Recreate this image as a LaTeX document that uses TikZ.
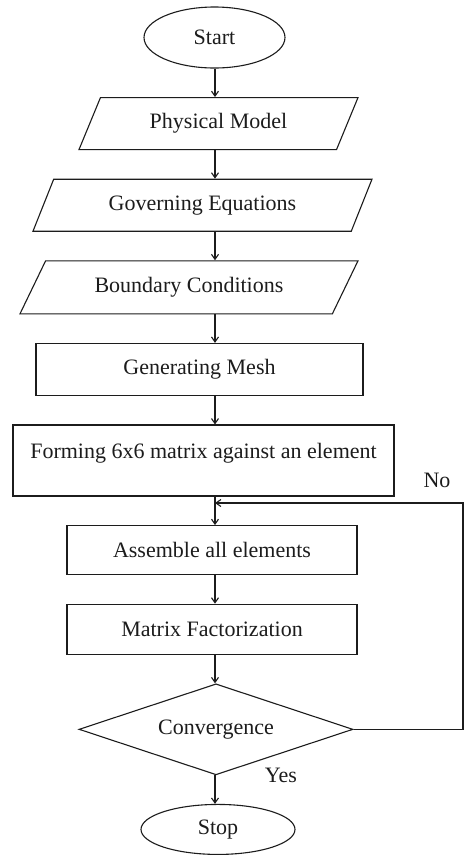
\documentclass[tikz,border=0pt]{standalone}
\usepackage{fontspec}
\setmainfont{Liberation Serif}
\usetikzlibrary{arrows.meta,positioning,shapes.geometric}
\definecolor{ink}{RGB}{28,28,28}

\begin{document}
\begin{tikzpicture}[
  font=\fontsize{22}{26}\selectfont,
  node distance=28.5pt,
  ends/.style={draw=ink, text=ink, ellipse, inner sep=0pt, line width=1.1pt},
  iobox/.style={draw=ink, text=ink, trapezium, trapezium left angle=43, trapezium right angle=137,
    trapezium stretches body, inner sep=0pt, minimum height=52pt, line width=1.1pt},
  procbox/.style={draw=ink, text=ink, rectangle, inner sep=0pt, minimum height=50pt, line width=1.1pt},
  decide/.style={draw=ink, text=ink, diamond, aspect=3, inner sep=0pt, line width=1.1pt},
  arr/.style={-{Straight Barb[length=5pt,width=7pt]}, color=ink, line width=1.1pt},
  tag/.style={text=ink, inner sep=0pt}
]
\fill[white] (0,0) rectangle (474pt,-855pt);
\useasboundingbox (0,0) rectangle (474pt,-855pt);
\coordinate (col) at (215pt,0);
\node[ends, minimum width=141pt, minimum height=61pt] (start) at (214.5pt,-37.5pt) {Start};
\node[iobox, minimum width=279pt, below=of start, xshift=4pt] (phys) {Physical Model};
\node[iobox, minimum width=339pt, below=of phys, xshift=-16pt] (gov) {Governing Equations};
\node[iobox, minimum width=338pt, minimum height=53pt, trapezium left angle=38, trapezium right angle=142,
  below=of gov, xshift=-13.5pt] (bound) {Boundary Conditions};
\node[procbox, minimum width=327pt, minimum height=52pt, below=of bound, xshift=10.5pt] (mesh) {Generating Mesh};
\node[procbox, minimum width=381pt, minimum height=71pt, text depth=20pt, below=of mesh, xshift=4pt] (form)
  {Forming 6x6 matrix against an element};
\node[procbox, minimum width=290pt, minimum height=49pt, below=of form, xshift=8.5pt] (assem) {Assemble all elements};
\node[procbox, minimum width=290pt, below=of assem] (fact) {Matrix Factorization};
\node[decide, minimum width=274pt, minimum height=91pt, below=of fact, xshift=4pt] (conv) {Convergence};
\node[ends, minimum width=154pt, minimum height=50pt, below=of conv, xshift=2pt] (stop) {Stop};
% main flow
\draw[arr] (start.south -| col) -- (phys.north -| col);
\draw[arr] (phys.south -| col) -- (gov.north -| col);
\draw[arr] (gov.south -| col) -- (bound.north -| col);
\draw[arr] (bound.south -| col) -- (mesh.north -| col);
\draw[arr] (mesh.south -| col) -- (form.north -| col);
\draw[arr] (form.south -| col) -- (assem.north -| col);
\draw[arr] (assem.south -| col) -- (fact.north -| col);
\draw[arr] (fact.south -| col) -- (conv.north -| col);
\draw[arr] (conv.south -| col) -- (stop.north -| col);
% loop back
\coordinate (loop) at (463pt,-503pt);
\draw[arr] (conv.east) -| (loop) -- (loop -| col);
\node[tag] (no) at (437pt,-480pt) {No};
\node[tag] (yes) at (281pt,-775pt) {Yes};
\end{tikzpicture}
\end{document}
